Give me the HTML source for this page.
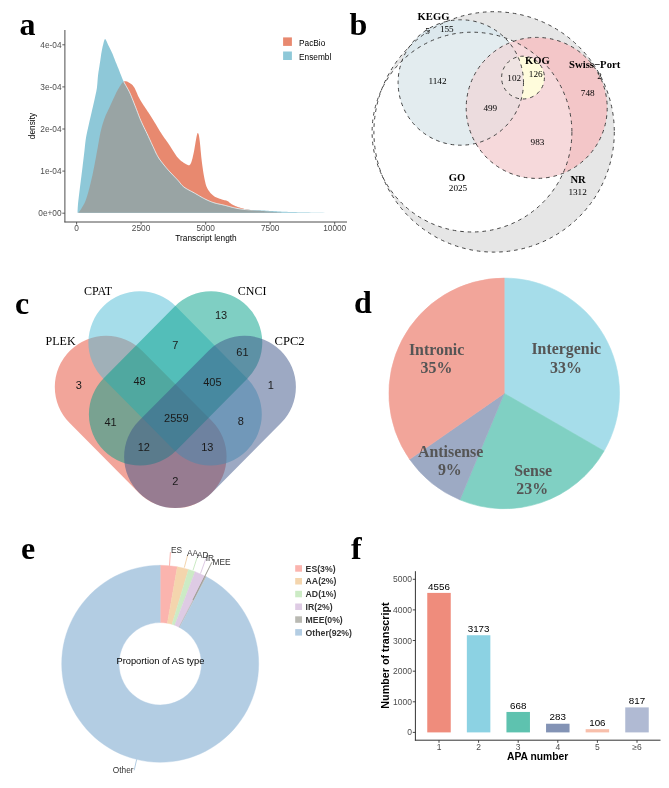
<!DOCTYPE html>
<html><head><meta charset="utf-8"><style>
html,body{margin:0;padding:0;background:#fff;}
body{width:669px;height:788px;overflow:hidden;}
svg{display:block;will-change:transform;}
</style></head><body>
<svg width="669" height="788" viewBox="0 0 669 788">
<rect width="669" height="788" fill="#fff"/>
<text x="19.5" y="34.5" style="font-family:&quot;Liberation Serif&quot;,serif;font-weight:bold;font-size:32px" fill="#000">a</text>
<text x="349.5" y="34.5" style="font-family:&quot;Liberation Serif&quot;,serif;font-weight:bold;font-size:32px" fill="#000">b</text>
<text x="15" y="314" style="font-family:&quot;Liberation Serif&quot;,serif;font-weight:bold;font-size:32px" fill="#000">c</text>
<text x="354" y="313" style="font-family:&quot;Liberation Serif&quot;,serif;font-weight:bold;font-size:32px" fill="#000">d</text>
<text x="21" y="559" style="font-family:&quot;Liberation Serif&quot;,serif;font-weight:bold;font-size:32px" fill="#000">e</text>
<text x="351" y="558.5" style="font-family:&quot;Liberation Serif&quot;,serif;font-weight:bold;font-size:32px" fill="#000">f</text>
<defs><clipPath id="redclip"><polygon points="78.20,212.80 78.44,212.51 78.74,212.16 79.10,211.75 79.51,211.27 79.96,210.72 80.43,210.09 80.91,209.39 81.40,208.60 81.91,207.74 82.45,206.83 83.03,205.85 83.62,204.79 84.22,203.63 84.82,202.38 85.42,201.00 86.00,199.50 86.57,197.83 87.16,195.99 87.74,194.01 88.32,191.93 88.89,189.80 89.45,187.66 89.99,185.55 90.50,183.50 90.99,181.52 91.45,179.55 91.89,177.60 92.32,175.64 92.74,173.67 93.16,171.66 93.57,169.61 94.00,167.50 94.43,165.32 94.86,163.09 95.28,160.81 95.71,158.49 96.13,156.16 96.55,153.83 96.98,151.50 97.40,149.20 97.82,146.88 98.23,144.51 98.64,142.13 99.06,139.75 99.47,137.41 99.90,135.14 100.34,132.96 100.80,130.90 101.28,128.95 101.78,127.08 102.29,125.29 102.81,123.57 103.33,121.92 103.86,120.35 104.38,118.84 104.90,117.40 105.41,116.07 105.92,114.85 106.42,113.73 106.93,112.67 107.43,111.64 107.95,110.60 108.47,109.53 109.00,108.40 109.54,107.21 110.10,105.99 110.66,104.75 111.23,103.50 111.80,102.25 112.37,101.01 112.94,99.79 113.50,98.60 114.04,97.43 114.57,96.27 115.09,95.13 115.61,93.99 116.14,92.87 116.70,91.77 117.28,90.68 117.90,89.60 118.57,88.48 119.27,87.28 120.00,86.07 120.75,84.89 121.51,83.79 122.28,82.82 123.05,82.04 123.80,81.50 124.56,81.22 125.33,81.15 126.11,81.27 126.89,81.52 127.66,81.87 128.40,82.28 129.12,82.70 129.80,83.10 130.43,83.48 131.03,83.88 131.60,84.31 132.14,84.79 132.68,85.33 133.21,85.95 133.75,86.67 134.30,87.50 134.86,88.48 135.43,89.63 135.99,90.88 136.56,92.21 137.12,93.56 137.68,94.89 138.24,96.15 138.80,97.30 139.34,98.33 139.87,99.28 140.39,100.18 140.91,101.05 141.44,101.91 141.99,102.79 142.57,103.71 143.20,104.70 143.87,105.75 144.59,106.83 145.34,107.94 146.11,109.08 146.89,110.23 147.68,111.39 148.45,112.55 149.20,113.70 149.93,114.83 150.64,115.95 151.34,117.07 152.04,118.19 152.75,119.34 153.47,120.51 154.22,121.73 155.00,123.00 155.82,124.34 156.67,125.76 157.54,127.22 158.43,128.71 159.32,130.21 160.22,131.69 161.12,133.12 162.00,134.50 162.86,135.79 163.71,137.01 164.54,138.18 165.38,139.33 166.24,140.50 167.12,141.72 168.03,143.01 169.00,144.40 170.02,145.95 171.09,147.66 172.19,149.46 173.32,151.29 174.47,153.10 175.62,154.83 176.77,156.42 177.90,157.80 179.06,159.02 180.27,160.14 181.50,161.17 182.72,162.09 183.91,162.90 185.02,163.59 186.03,164.16 186.90,164.60 187.62,164.93 188.21,165.16 188.71,165.28 189.12,165.28 189.50,165.14 189.85,164.86 190.21,164.42 190.60,163.80 191.01,162.99 191.40,162.00 191.78,160.85 192.14,159.55 192.51,158.13 192.87,156.60 193.23,154.98 193.60,153.30 193.99,151.41 194.39,149.23 194.79,146.87 195.19,144.45 195.58,142.09 195.96,139.90 196.30,138.00 196.60,136.50 196.86,135.37 197.08,134.49 197.27,133.83 197.44,133.38 197.60,133.11 197.76,133.01 197.92,133.04 198.10,133.20 198.28,133.45 198.46,133.80 198.63,134.29 198.80,134.94 198.98,135.80 199.17,136.89 199.37,138.24 199.60,139.90 199.85,141.98 200.10,144.50 200.38,147.34 200.66,150.39 200.96,153.53 201.26,156.64 201.58,159.60 201.90,162.30 202.23,164.82 202.58,167.32 202.94,169.77 203.31,172.14 203.68,174.41 204.05,176.54 204.43,178.52 204.80,180.30 205.15,181.86 205.47,183.21 205.79,184.40 206.11,185.45 206.45,186.42 206.84,187.34 207.28,188.25 207.80,189.20 208.39,190.17 209.02,191.12 209.70,192.04 210.43,192.93 211.20,193.77 212.02,194.57 212.89,195.31 213.80,196.00 214.81,196.63 215.94,197.20 217.15,197.72 218.39,198.20 219.62,198.63 220.80,199.02 221.87,199.38 222.80,199.70 223.58,199.96 224.24,200.13 224.82,200.24 225.34,200.32 225.82,200.41 226.29,200.51 226.77,200.67 227.30,200.90 227.84,201.22 228.37,201.59 228.89,202.01 229.41,202.46 229.94,202.91 230.49,203.37 231.07,203.80 231.70,204.20 232.35,204.57 233.02,204.92 233.70,205.27 234.41,205.60 235.16,205.93 235.95,206.25 236.80,206.58 237.70,206.90 238.69,207.23 239.76,207.57 240.89,207.92 242.06,208.26 243.24,208.58 244.43,208.89 245.59,209.16 246.70,209.40 247.76,209.60 248.78,209.76 249.79,209.89 250.79,210.01 251.79,210.11 252.82,210.20 253.89,210.29 255.00,210.40 256.17,210.51 257.38,210.61 258.63,210.71 259.89,210.81 261.18,210.91 262.46,211.00 263.74,211.10 265.00,211.20 266.25,211.30 267.50,211.40 268.75,211.51 270.00,211.61 271.25,211.71 272.50,211.81 273.75,211.91 275.00,212.00 276.32,212.09 277.73,212.18 279.19,212.27 280.62,212.35 281.98,212.43 283.20,212.50 284.23,212.56 285.00,212.60 78.20,212.80"/></clipPath></defs>
<polygon points="78.20,212.80 78.44,212.51 78.74,212.16 79.10,211.75 79.51,211.27 79.96,210.72 80.43,210.09 80.91,209.39 81.40,208.60 81.91,207.74 82.45,206.83 83.03,205.85 83.62,204.79 84.22,203.63 84.82,202.38 85.42,201.00 86.00,199.50 86.57,197.83 87.16,195.99 87.74,194.01 88.32,191.93 88.89,189.80 89.45,187.66 89.99,185.55 90.50,183.50 90.99,181.52 91.45,179.55 91.89,177.60 92.32,175.64 92.74,173.67 93.16,171.66 93.57,169.61 94.00,167.50 94.43,165.32 94.86,163.09 95.28,160.81 95.71,158.49 96.13,156.16 96.55,153.83 96.98,151.50 97.40,149.20 97.82,146.88 98.23,144.51 98.64,142.13 99.06,139.75 99.47,137.41 99.90,135.14 100.34,132.96 100.80,130.90 101.28,128.95 101.78,127.08 102.29,125.29 102.81,123.57 103.33,121.92 103.86,120.35 104.38,118.84 104.90,117.40 105.41,116.07 105.92,114.85 106.42,113.73 106.93,112.67 107.43,111.64 107.95,110.60 108.47,109.53 109.00,108.40 109.54,107.21 110.10,105.99 110.66,104.75 111.23,103.50 111.80,102.25 112.37,101.01 112.94,99.79 113.50,98.60 114.04,97.43 114.57,96.27 115.09,95.13 115.61,93.99 116.14,92.87 116.70,91.77 117.28,90.68 117.90,89.60 118.57,88.48 119.27,87.28 120.00,86.07 120.75,84.89 121.51,83.79 122.28,82.82 123.05,82.04 123.80,81.50 124.56,81.22 125.33,81.15 126.11,81.27 126.89,81.52 127.66,81.87 128.40,82.28 129.12,82.70 129.80,83.10 130.43,83.48 131.03,83.88 131.60,84.31 132.14,84.79 132.68,85.33 133.21,85.95 133.75,86.67 134.30,87.50 134.86,88.48 135.43,89.63 135.99,90.88 136.56,92.21 137.12,93.56 137.68,94.89 138.24,96.15 138.80,97.30 139.34,98.33 139.87,99.28 140.39,100.18 140.91,101.05 141.44,101.91 141.99,102.79 142.57,103.71 143.20,104.70 143.87,105.75 144.59,106.83 145.34,107.94 146.11,109.08 146.89,110.23 147.68,111.39 148.45,112.55 149.20,113.70 149.93,114.83 150.64,115.95 151.34,117.07 152.04,118.19 152.75,119.34 153.47,120.51 154.22,121.73 155.00,123.00 155.82,124.34 156.67,125.76 157.54,127.22 158.43,128.71 159.32,130.21 160.22,131.69 161.12,133.12 162.00,134.50 162.86,135.79 163.71,137.01 164.54,138.18 165.38,139.33 166.24,140.50 167.12,141.72 168.03,143.01 169.00,144.40 170.02,145.95 171.09,147.66 172.19,149.46 173.32,151.29 174.47,153.10 175.62,154.83 176.77,156.42 177.90,157.80 179.06,159.02 180.27,160.14 181.50,161.17 182.72,162.09 183.91,162.90 185.02,163.59 186.03,164.16 186.90,164.60 187.62,164.93 188.21,165.16 188.71,165.28 189.12,165.28 189.50,165.14 189.85,164.86 190.21,164.42 190.60,163.80 191.01,162.99 191.40,162.00 191.78,160.85 192.14,159.55 192.51,158.13 192.87,156.60 193.23,154.98 193.60,153.30 193.99,151.41 194.39,149.23 194.79,146.87 195.19,144.45 195.58,142.09 195.96,139.90 196.30,138.00 196.60,136.50 196.86,135.37 197.08,134.49 197.27,133.83 197.44,133.38 197.60,133.11 197.76,133.01 197.92,133.04 198.10,133.20 198.28,133.45 198.46,133.80 198.63,134.29 198.80,134.94 198.98,135.80 199.17,136.89 199.37,138.24 199.60,139.90 199.85,141.98 200.10,144.50 200.38,147.34 200.66,150.39 200.96,153.53 201.26,156.64 201.58,159.60 201.90,162.30 202.23,164.82 202.58,167.32 202.94,169.77 203.31,172.14 203.68,174.41 204.05,176.54 204.43,178.52 204.80,180.30 205.15,181.86 205.47,183.21 205.79,184.40 206.11,185.45 206.45,186.42 206.84,187.34 207.28,188.25 207.80,189.20 208.39,190.17 209.02,191.12 209.70,192.04 210.43,192.93 211.20,193.77 212.02,194.57 212.89,195.31 213.80,196.00 214.81,196.63 215.94,197.20 217.15,197.72 218.39,198.20 219.62,198.63 220.80,199.02 221.87,199.38 222.80,199.70 223.58,199.96 224.24,200.13 224.82,200.24 225.34,200.32 225.82,200.41 226.29,200.51 226.77,200.67 227.30,200.90 227.84,201.22 228.37,201.59 228.89,202.01 229.41,202.46 229.94,202.91 230.49,203.37 231.07,203.80 231.70,204.20 232.35,204.57 233.02,204.92 233.70,205.27 234.41,205.60 235.16,205.93 235.95,206.25 236.80,206.58 237.70,206.90 238.69,207.23 239.76,207.57 240.89,207.92 242.06,208.26 243.24,208.58 244.43,208.89 245.59,209.16 246.70,209.40 247.76,209.60 248.78,209.76 249.79,209.89 250.79,210.01 251.79,210.11 252.82,210.20 253.89,210.29 255.00,210.40 256.17,210.51 257.38,210.61 258.63,210.71 259.89,210.81 261.18,210.91 262.46,211.00 263.74,211.10 265.00,211.20 266.25,211.30 267.50,211.40 268.75,211.51 270.00,211.61 271.25,211.71 272.50,211.81 273.75,211.91 275.00,212.00 276.32,212.09 277.73,212.18 279.19,212.27 280.62,212.35 281.98,212.43 283.20,212.50 284.23,212.56 285.00,212.60 78.20,212.80" fill="#E8896F"/>
<polygon points="77.50,212.80 77.53,212.15 77.56,211.33 77.60,210.36 77.65,209.26 77.71,208.05 77.79,206.75 77.88,205.39 78.00,204.00 78.14,202.55 78.31,201.03 78.49,199.42 78.69,197.74 78.90,195.99 79.12,194.16 79.36,192.27 79.60,190.30 79.85,188.23 80.13,186.05 80.42,183.77 80.71,181.43 81.01,179.06 81.32,176.68 81.61,174.31 81.90,172.00 82.18,169.71 82.46,167.39 82.75,165.07 83.02,162.76 83.30,160.46 83.57,158.19 83.84,155.97 84.10,153.80 84.34,151.69 84.56,149.65 84.77,147.64 84.97,145.66 85.19,143.70 85.43,141.75 85.69,139.78 86.00,137.80 86.35,135.78 86.75,133.75 87.17,131.70 87.62,129.66 88.07,127.64 88.53,125.65 88.97,123.69 89.40,121.80 89.81,119.96 90.23,118.15 90.64,116.38 91.04,114.65 91.45,112.95 91.84,111.27 92.23,109.62 92.60,108.00 92.97,106.39 93.34,104.78 93.70,103.20 94.05,101.64 94.39,100.14 94.71,98.68 95.02,97.30 95.30,96.00 95.56,94.83 95.79,93.80 96.00,92.86 96.20,91.96 96.38,91.07 96.56,90.12 96.73,89.08 96.90,87.90 97.06,86.54 97.21,85.03 97.35,83.42 97.48,81.77 97.61,80.12 97.74,78.52 97.87,77.03 98.00,75.70 98.14,74.53 98.27,73.48 98.41,72.51 98.54,71.61 98.68,70.75 98.82,69.89 98.96,69.02 99.10,68.10 99.25,67.15 99.40,66.20 99.55,65.25 99.70,64.30 99.85,63.35 100.00,62.40 100.15,61.45 100.30,60.50 100.44,59.55 100.57,58.60 100.70,57.65 100.82,56.71 100.96,55.76 101.09,54.81 101.24,53.85 101.40,52.90 101.57,51.93 101.75,50.94 101.94,49.95 102.14,48.96 102.34,47.97 102.55,47.01 102.77,46.09 103.00,45.20 103.23,44.28 103.46,43.28 103.70,42.26 103.95,41.29 104.21,40.42 104.49,39.73 104.78,39.27 105.10,39.10 105.44,39.27 105.81,39.73 106.19,40.42 106.59,41.29 107.01,42.26 107.43,43.28 107.86,44.28 108.30,45.20 108.75,46.09 109.23,47.01 109.72,47.97 110.21,48.96 110.71,49.95 111.19,50.94 111.66,51.93 112.10,52.90 112.51,53.85 112.90,54.81 113.28,55.76 113.64,56.71 114.00,57.65 114.36,58.60 114.73,59.55 115.10,60.50 115.48,61.45 115.87,62.40 116.26,63.35 116.65,64.30 117.04,65.25 117.43,66.20 117.82,67.15 118.20,68.10 118.58,69.06 118.97,70.04 119.35,71.02 119.73,71.99 120.11,72.96 120.48,73.91 120.84,74.82 121.20,75.70 121.52,76.50 121.80,77.22 122.05,77.88 122.31,78.54 122.59,79.22 122.92,79.97 123.32,80.81 123.80,81.80 124.39,82.91 125.06,84.11 125.80,85.39 126.59,86.75 127.40,88.17 128.22,89.66 129.03,91.20 129.80,92.80 130.56,94.49 131.32,96.30 132.09,98.19 132.86,100.14 133.62,102.09 134.37,104.03 135.10,105.91 135.80,107.70 136.46,109.39 137.08,111.01 137.66,112.58 138.24,114.12 138.83,115.67 139.44,117.23 140.09,118.83 140.80,120.50 141.58,122.25 142.43,124.08 143.32,125.94 144.23,127.83 145.15,129.71 146.04,131.55 146.90,133.32 147.70,135.00 148.44,136.59 149.14,138.11 149.82,139.58 150.47,141.01 151.10,142.41 151.73,143.78 152.36,145.14 153.00,146.50 153.63,147.86 154.25,149.21 154.85,150.54 155.46,151.86 156.06,153.14 156.69,154.40 157.33,155.62 158.00,156.80 158.70,157.93 159.43,159.03 160.18,160.08 160.94,161.11 161.71,162.11 162.48,163.08 163.24,164.05 164.00,165.00 164.74,165.92 165.46,166.80 166.17,167.66 166.88,168.49 167.61,169.33 168.37,170.19 169.16,171.07 170.00,172.00 170.91,172.99 171.89,174.02 172.91,175.09 173.95,176.17 174.99,177.25 176.01,178.31 176.99,179.33 177.90,180.30 178.71,181.22 179.43,182.10 180.09,182.96 180.74,183.79 181.40,184.61 182.13,185.41 182.95,186.21 183.90,187.00 185.00,187.78 186.21,188.55 187.51,189.31 188.88,190.05 190.27,190.79 191.68,191.52 193.06,192.26 194.40,193.00 195.71,193.76 197.04,194.53 198.37,195.31 199.69,196.09 201.01,196.85 202.30,197.58 203.57,198.26 204.80,198.90 205.98,199.48 207.11,200.03 208.21,200.54 209.29,201.01 210.38,201.46 211.48,201.89 212.61,202.30 213.80,202.70 215.04,203.07 216.32,203.41 217.63,203.72 218.96,204.02 220.30,204.30 221.65,204.59 222.98,204.89 224.30,205.20 225.61,205.54 226.94,205.89 228.27,206.25 229.59,206.61 230.91,206.97 232.20,207.30 233.47,207.62 234.70,207.90 235.88,208.15 236.99,208.38 238.08,208.59 239.14,208.78 240.22,208.95 241.32,209.11 242.47,209.26 243.70,209.40 245.01,209.53 246.40,209.64 247.83,209.73 249.30,209.81 250.77,209.89 252.23,209.96 253.64,210.03 255.00,210.10 256.30,210.17 257.57,210.24 258.82,210.30 260.04,210.36 261.25,210.41 262.44,210.47 263.62,210.53 264.80,210.60 265.95,210.67 267.05,210.74 268.14,210.82 269.21,210.89 270.30,210.97 271.41,211.05 272.58,211.12 273.80,211.20 275.07,211.28 276.36,211.35 277.67,211.43 279.03,211.51 280.43,211.59 281.88,211.66 283.40,211.73 285.00,211.80 286.67,211.86 288.41,211.92 290.21,211.97 292.07,212.02 293.99,212.07 295.95,212.11 297.96,212.16 300.00,212.20 302.11,212.24 304.31,212.28 306.57,212.32 308.88,212.36 311.19,212.39 313.50,212.43 315.78,212.46 318.00,212.50 320.29,212.54 322.72,212.58 325.20,212.63 327.62,212.67 329.91,212.71 331.97,212.75 333.70,212.78 335.00,212.80 335.00,212.80 77.50,212.80" fill="#8EC8D8"/>
<g clip-path="url(#redclip)"><polygon points="77.50,212.80 77.53,212.15 77.56,211.33 77.60,210.36 77.65,209.26 77.71,208.05 77.79,206.75 77.88,205.39 78.00,204.00 78.14,202.55 78.31,201.03 78.49,199.42 78.69,197.74 78.90,195.99 79.12,194.16 79.36,192.27 79.60,190.30 79.85,188.23 80.13,186.05 80.42,183.77 80.71,181.43 81.01,179.06 81.32,176.68 81.61,174.31 81.90,172.00 82.18,169.71 82.46,167.39 82.75,165.07 83.02,162.76 83.30,160.46 83.57,158.19 83.84,155.97 84.10,153.80 84.34,151.69 84.56,149.65 84.77,147.64 84.97,145.66 85.19,143.70 85.43,141.75 85.69,139.78 86.00,137.80 86.35,135.78 86.75,133.75 87.17,131.70 87.62,129.66 88.07,127.64 88.53,125.65 88.97,123.69 89.40,121.80 89.81,119.96 90.23,118.15 90.64,116.38 91.04,114.65 91.45,112.95 91.84,111.27 92.23,109.62 92.60,108.00 92.97,106.39 93.34,104.78 93.70,103.20 94.05,101.64 94.39,100.14 94.71,98.68 95.02,97.30 95.30,96.00 95.56,94.83 95.79,93.80 96.00,92.86 96.20,91.96 96.38,91.07 96.56,90.12 96.73,89.08 96.90,87.90 97.06,86.54 97.21,85.03 97.35,83.42 97.48,81.77 97.61,80.12 97.74,78.52 97.87,77.03 98.00,75.70 98.14,74.53 98.27,73.48 98.41,72.51 98.54,71.61 98.68,70.75 98.82,69.89 98.96,69.02 99.10,68.10 99.25,67.15 99.40,66.20 99.55,65.25 99.70,64.30 99.85,63.35 100.00,62.40 100.15,61.45 100.30,60.50 100.44,59.55 100.57,58.60 100.70,57.65 100.82,56.71 100.96,55.76 101.09,54.81 101.24,53.85 101.40,52.90 101.57,51.93 101.75,50.94 101.94,49.95 102.14,48.96 102.34,47.97 102.55,47.01 102.77,46.09 103.00,45.20 103.23,44.28 103.46,43.28 103.70,42.26 103.95,41.29 104.21,40.42 104.49,39.73 104.78,39.27 105.10,39.10 105.44,39.27 105.81,39.73 106.19,40.42 106.59,41.29 107.01,42.26 107.43,43.28 107.86,44.28 108.30,45.20 108.75,46.09 109.23,47.01 109.72,47.97 110.21,48.96 110.71,49.95 111.19,50.94 111.66,51.93 112.10,52.90 112.51,53.85 112.90,54.81 113.28,55.76 113.64,56.71 114.00,57.65 114.36,58.60 114.73,59.55 115.10,60.50 115.48,61.45 115.87,62.40 116.26,63.35 116.65,64.30 117.04,65.25 117.43,66.20 117.82,67.15 118.20,68.10 118.58,69.06 118.97,70.04 119.35,71.02 119.73,71.99 120.11,72.96 120.48,73.91 120.84,74.82 121.20,75.70 121.52,76.50 121.80,77.22 122.05,77.88 122.31,78.54 122.59,79.22 122.92,79.97 123.32,80.81 123.80,81.80 124.39,82.91 125.06,84.11 125.80,85.39 126.59,86.75 127.40,88.17 128.22,89.66 129.03,91.20 129.80,92.80 130.56,94.49 131.32,96.30 132.09,98.19 132.86,100.14 133.62,102.09 134.37,104.03 135.10,105.91 135.80,107.70 136.46,109.39 137.08,111.01 137.66,112.58 138.24,114.12 138.83,115.67 139.44,117.23 140.09,118.83 140.80,120.50 141.58,122.25 142.43,124.08 143.32,125.94 144.23,127.83 145.15,129.71 146.04,131.55 146.90,133.32 147.70,135.00 148.44,136.59 149.14,138.11 149.82,139.58 150.47,141.01 151.10,142.41 151.73,143.78 152.36,145.14 153.00,146.50 153.63,147.86 154.25,149.21 154.85,150.54 155.46,151.86 156.06,153.14 156.69,154.40 157.33,155.62 158.00,156.80 158.70,157.93 159.43,159.03 160.18,160.08 160.94,161.11 161.71,162.11 162.48,163.08 163.24,164.05 164.00,165.00 164.74,165.92 165.46,166.80 166.17,167.66 166.88,168.49 167.61,169.33 168.37,170.19 169.16,171.07 170.00,172.00 170.91,172.99 171.89,174.02 172.91,175.09 173.95,176.17 174.99,177.25 176.01,178.31 176.99,179.33 177.90,180.30 178.71,181.22 179.43,182.10 180.09,182.96 180.74,183.79 181.40,184.61 182.13,185.41 182.95,186.21 183.90,187.00 185.00,187.78 186.21,188.55 187.51,189.31 188.88,190.05 190.27,190.79 191.68,191.52 193.06,192.26 194.40,193.00 195.71,193.76 197.04,194.53 198.37,195.31 199.69,196.09 201.01,196.85 202.30,197.58 203.57,198.26 204.80,198.90 205.98,199.48 207.11,200.03 208.21,200.54 209.29,201.01 210.38,201.46 211.48,201.89 212.61,202.30 213.80,202.70 215.04,203.07 216.32,203.41 217.63,203.72 218.96,204.02 220.30,204.30 221.65,204.59 222.98,204.89 224.30,205.20 225.61,205.54 226.94,205.89 228.27,206.25 229.59,206.61 230.91,206.97 232.20,207.30 233.47,207.62 234.70,207.90 235.88,208.15 236.99,208.38 238.08,208.59 239.14,208.78 240.22,208.95 241.32,209.11 242.47,209.26 243.70,209.40 245.01,209.53 246.40,209.64 247.83,209.73 249.30,209.81 250.77,209.89 252.23,209.96 253.64,210.03 255.00,210.10 256.30,210.17 257.57,210.24 258.82,210.30 260.04,210.36 261.25,210.41 262.44,210.47 263.62,210.53 264.80,210.60 265.95,210.67 267.05,210.74 268.14,210.82 269.21,210.89 270.30,210.97 271.41,211.05 272.58,211.12 273.80,211.20 275.07,211.28 276.36,211.35 277.67,211.43 279.03,211.51 280.43,211.59 281.88,211.66 283.40,211.73 285.00,211.80 286.67,211.86 288.41,211.92 290.21,211.97 292.07,212.02 293.99,212.07 295.95,212.11 297.96,212.16 300.00,212.20 302.11,212.24 304.31,212.28 306.57,212.32 308.88,212.36 311.19,212.39 313.50,212.43 315.78,212.46 318.00,212.50 320.29,212.54 322.72,212.58 325.20,212.63 327.62,212.67 329.91,212.71 331.97,212.75 333.70,212.78 335.00,212.80 335.00,212.80 77.50,212.80" fill="#99A4A4"/><polyline points="77.50,212.80 77.53,212.15 77.56,211.33 77.60,210.36 77.65,209.26 77.71,208.05 77.79,206.75 77.88,205.39 78.00,204.00 78.14,202.55 78.31,201.03 78.49,199.42 78.69,197.74 78.90,195.99 79.12,194.16 79.36,192.27 79.60,190.30 79.85,188.23 80.13,186.05 80.42,183.77 80.71,181.43 81.01,179.06 81.32,176.68 81.61,174.31 81.90,172.00 82.18,169.71 82.46,167.39 82.75,165.07 83.02,162.76 83.30,160.46 83.57,158.19 83.84,155.97 84.10,153.80 84.34,151.69 84.56,149.65 84.77,147.64 84.97,145.66 85.19,143.70 85.43,141.75 85.69,139.78 86.00,137.80 86.35,135.78 86.75,133.75 87.17,131.70 87.62,129.66 88.07,127.64 88.53,125.65 88.97,123.69 89.40,121.80 89.81,119.96 90.23,118.15 90.64,116.38 91.04,114.65 91.45,112.95 91.84,111.27 92.23,109.62 92.60,108.00 92.97,106.39 93.34,104.78 93.70,103.20 94.05,101.64 94.39,100.14 94.71,98.68 95.02,97.30 95.30,96.00 95.56,94.83 95.79,93.80 96.00,92.86 96.20,91.96 96.38,91.07 96.56,90.12 96.73,89.08 96.90,87.90 97.06,86.54 97.21,85.03 97.35,83.42 97.48,81.77 97.61,80.12 97.74,78.52 97.87,77.03 98.00,75.70 98.14,74.53 98.27,73.48 98.41,72.51 98.54,71.61 98.68,70.75 98.82,69.89 98.96,69.02 99.10,68.10 99.25,67.15 99.40,66.20 99.55,65.25 99.70,64.30 99.85,63.35 100.00,62.40 100.15,61.45 100.30,60.50 100.44,59.55 100.57,58.60 100.70,57.65 100.82,56.71 100.96,55.76 101.09,54.81 101.24,53.85 101.40,52.90 101.57,51.93 101.75,50.94 101.94,49.95 102.14,48.96 102.34,47.97 102.55,47.01 102.77,46.09 103.00,45.20 103.23,44.28 103.46,43.28 103.70,42.26 103.95,41.29 104.21,40.42 104.49,39.73 104.78,39.27 105.10,39.10 105.44,39.27 105.81,39.73 106.19,40.42 106.59,41.29 107.01,42.26 107.43,43.28 107.86,44.28 108.30,45.20 108.75,46.09 109.23,47.01 109.72,47.97 110.21,48.96 110.71,49.95 111.19,50.94 111.66,51.93 112.10,52.90 112.51,53.85 112.90,54.81 113.28,55.76 113.64,56.71 114.00,57.65 114.36,58.60 114.73,59.55 115.10,60.50 115.48,61.45 115.87,62.40 116.26,63.35 116.65,64.30 117.04,65.25 117.43,66.20 117.82,67.15 118.20,68.10 118.58,69.06 118.97,70.04 119.35,71.02 119.73,71.99 120.11,72.96 120.48,73.91 120.84,74.82 121.20,75.70 121.52,76.50 121.80,77.22 122.05,77.88 122.31,78.54 122.59,79.22 122.92,79.97 123.32,80.81 123.80,81.80 124.39,82.91 125.06,84.11 125.80,85.39 126.59,86.75 127.40,88.17 128.22,89.66 129.03,91.20 129.80,92.80 130.56,94.49 131.32,96.30 132.09,98.19 132.86,100.14 133.62,102.09 134.37,104.03 135.10,105.91 135.80,107.70 136.46,109.39 137.08,111.01 137.66,112.58 138.24,114.12 138.83,115.67 139.44,117.23 140.09,118.83 140.80,120.50 141.58,122.25 142.43,124.08 143.32,125.94 144.23,127.83 145.15,129.71 146.04,131.55 146.90,133.32 147.70,135.00 148.44,136.59 149.14,138.11 149.82,139.58 150.47,141.01 151.10,142.41 151.73,143.78 152.36,145.14 153.00,146.50 153.63,147.86 154.25,149.21 154.85,150.54 155.46,151.86 156.06,153.14 156.69,154.40 157.33,155.62 158.00,156.80 158.70,157.93 159.43,159.03 160.18,160.08 160.94,161.11 161.71,162.11 162.48,163.08 163.24,164.05 164.00,165.00 164.74,165.92 165.46,166.80 166.17,167.66 166.88,168.49 167.61,169.33 168.37,170.19 169.16,171.07 170.00,172.00 170.91,172.99 171.89,174.02 172.91,175.09 173.95,176.17 174.99,177.25 176.01,178.31 176.99,179.33 177.90,180.30 178.71,181.22 179.43,182.10 180.09,182.96 180.74,183.79 181.40,184.61 182.13,185.41 182.95,186.21 183.90,187.00 185.00,187.78 186.21,188.55 187.51,189.31 188.88,190.05 190.27,190.79 191.68,191.52 193.06,192.26 194.40,193.00 195.71,193.76 197.04,194.53 198.37,195.31 199.69,196.09 201.01,196.85 202.30,197.58 203.57,198.26 204.80,198.90 205.98,199.48 207.11,200.03 208.21,200.54 209.29,201.01 210.38,201.46 211.48,201.89 212.61,202.30 213.80,202.70 215.04,203.07 216.32,203.41 217.63,203.72 218.96,204.02 220.30,204.30 221.65,204.59 222.98,204.89 224.30,205.20 225.61,205.54 226.94,205.89 228.27,206.25 229.59,206.61 230.91,206.97 232.20,207.30 233.47,207.62 234.70,207.90 235.88,208.15 236.99,208.38 238.08,208.59 239.14,208.78 240.22,208.95 241.32,209.11 242.47,209.26 243.70,209.40 245.01,209.53 246.40,209.64 247.83,209.73 249.30,209.81 250.77,209.89 252.23,209.96 253.64,210.03 255.00,210.10 256.30,210.17 257.57,210.24 258.82,210.30 260.04,210.36 261.25,210.41 262.44,210.47 263.62,210.53 264.80,210.60 265.95,210.67 267.05,210.74 268.14,210.82 269.21,210.89 270.30,210.97 271.41,211.05 272.58,211.12 273.80,211.20 275.07,211.28 276.36,211.35 277.67,211.43 279.03,211.51 280.43,211.59 281.88,211.66 283.40,211.73 285.00,211.80 286.67,211.86 288.41,211.92 290.21,211.97 292.07,212.02 293.99,212.07 295.95,212.11 297.96,212.16 300.00,212.20 302.11,212.24 304.31,212.28 306.57,212.32 308.88,212.36 311.19,212.39 313.50,212.43 315.78,212.46 318.00,212.50 320.29,212.54 322.72,212.58 325.20,212.63 327.62,212.67 329.91,212.71 331.97,212.75 333.70,212.78 335.00,212.80" fill="none" stroke="#fff" stroke-width="0.7"/></g>
<line x1="64.9" y1="30" x2="64.9" y2="222.3" stroke="#4d4d4d" stroke-width="1"/>
<line x1="64.4" y1="222" x2="347" y2="222" stroke="#4d4d4d" stroke-width="1"/>
<line x1="62.3" y1="213.2" x2="64.9" y2="213.2" stroke="#4d4d4d" stroke-width="0.9"/>
<text x="61.6" y="216.2" text-anchor="end" style="font-family:&quot;Liberation Sans&quot;,sans-serif;font-size:8.3px" fill="#4d4d4d">0e+00</text>
<line x1="62.3" y1="171.1" x2="64.9" y2="171.1" stroke="#4d4d4d" stroke-width="0.9"/>
<text x="61.6" y="174.1" text-anchor="end" style="font-family:&quot;Liberation Sans&quot;,sans-serif;font-size:8.3px" fill="#4d4d4d">1e-04</text>
<line x1="62.3" y1="129.0" x2="64.9" y2="129.0" stroke="#4d4d4d" stroke-width="0.9"/>
<text x="61.6" y="132.0" text-anchor="end" style="font-family:&quot;Liberation Sans&quot;,sans-serif;font-size:8.3px" fill="#4d4d4d">2e-04</text>
<line x1="62.3" y1="86.9" x2="64.9" y2="86.9" stroke="#4d4d4d" stroke-width="0.9"/>
<text x="61.6" y="89.9" text-anchor="end" style="font-family:&quot;Liberation Sans&quot;,sans-serif;font-size:8.3px" fill="#4d4d4d">3e-04</text>
<line x1="62.3" y1="44.8" x2="64.9" y2="44.8" stroke="#4d4d4d" stroke-width="0.9"/>
<text x="61.6" y="47.8" text-anchor="end" style="font-family:&quot;Liberation Sans&quot;,sans-serif;font-size:8.3px" fill="#4d4d4d">4e-04</text>
<line x1="76.6" y1="222" x2="76.6" y2="224.6" stroke="#4d4d4d" stroke-width="0.9"/>
<text x="76.6" y="231.3" text-anchor="middle" style="font-family:&quot;Liberation Sans&quot;,sans-serif;font-size:8.3px" fill="#4d4d4d">0</text>
<line x1="141.1" y1="222" x2="141.1" y2="224.6" stroke="#4d4d4d" stroke-width="0.9"/>
<text x="141.1" y="231.3" text-anchor="middle" style="font-family:&quot;Liberation Sans&quot;,sans-serif;font-size:8.3px" fill="#4d4d4d">2500</text>
<line x1="205.7" y1="222" x2="205.7" y2="224.6" stroke="#4d4d4d" stroke-width="0.9"/>
<text x="205.7" y="231.3" text-anchor="middle" style="font-family:&quot;Liberation Sans&quot;,sans-serif;font-size:8.3px" fill="#4d4d4d">5000</text>
<line x1="270.2" y1="222" x2="270.2" y2="224.6" stroke="#4d4d4d" stroke-width="0.9"/>
<text x="270.2" y="231.3" text-anchor="middle" style="font-family:&quot;Liberation Sans&quot;,sans-serif;font-size:8.3px" fill="#4d4d4d">7500</text>
<line x1="334.7" y1="222" x2="334.7" y2="224.6" stroke="#4d4d4d" stroke-width="0.9"/>
<text x="334.7" y="231.3" text-anchor="middle" style="font-family:&quot;Liberation Sans&quot;,sans-serif;font-size:8.3px" fill="#4d4d4d">10000</text>
<text x="206" y="241" text-anchor="middle" style="font-family:&quot;Liberation Sans&quot;,sans-serif;font-size:8.3px" fill="#000">Transcript length</text>
<text transform="translate(35,126) rotate(-90)" text-anchor="middle" style="font-family:&quot;Liberation Sans&quot;,sans-serif;font-size:8.3px" fill="#000">density</text>
<rect x="283.1" y="37.4" width="8.8" height="8.5" fill="#E8896F"/>
<rect x="283.1" y="51.5" width="8.8" height="8.5" fill="#8EC8D8"/>
<text x="299" y="46" style="font-family:&quot;Liberation Sans&quot;,sans-serif;font-size:8.3px" fill="#000">PacBio</text>
<text x="299" y="60" style="font-family:&quot;Liberation Sans&quot;,sans-serif;font-size:8.3px" fill="#000">Ensembl</text>
<defs><clipPath id="cGO"><circle cx="472" cy="132.1" r="99.9" fill="#000" /></clipPath><clipPath id="cKE"><circle cx="460.8" cy="82.5" r="62.7" fill="#000" /></clipPath><clipPath id="cSP"><circle cx="536.7" cy="107.9" r="70.5" fill="#000" /></clipPath></defs>
<circle cx="494.1" cy="131.9" r="120.2" fill="#E6E6E6" />
<circle cx="472" cy="132.1" r="99.9" fill="#FFFFFF" />
<circle cx="460.8" cy="82.5" r="62.7" fill="#DCE8ED" />
<g clip-path="url(#cGO)"><circle cx="460.8" cy="82.5" r="62.7" fill="#E3ECEF" /></g>
<circle cx="536.7" cy="107.9" r="70.5" fill="#F3C6C8" />
<g clip-path="url(#cGO)"><circle cx="536.7" cy="107.9" r="70.5" fill="#F6D9DB" /></g>
<g clip-path="url(#cGO)"><g clip-path="url(#cKE)"><circle cx="536.7" cy="107.9" r="70.5" fill="#ECDCDE" /></g></g>
<circle cx="523" cy="77.6" r="21.4" fill="#FFFCDC" />
<g clip-path="url(#cKE)"><circle cx="523" cy="77.6" r="21.4" fill="#EFE3E2" /></g>
<circle cx="494.1" cy="131.9" r="120.2" fill="none" stroke="#444" stroke-width="1" stroke-dasharray="3.6,3.9"/>
<circle cx="472" cy="132.1" r="99.9" fill="none" stroke="#444" stroke-width="1" stroke-dasharray="3.6,3.9"/>
<circle cx="460.8" cy="82.5" r="62.7" fill="none" stroke="#444" stroke-width="1" stroke-dasharray="3.6,3.9"/>
<circle cx="536.7" cy="107.9" r="70.5" fill="none" stroke="#444" stroke-width="1" stroke-dasharray="3.6,3.9"/>
<circle cx="523" cy="77.6" r="21.4" fill="none" stroke="#444" stroke-width="1" stroke-dasharray="3.6,3.9"/>
<text x="433.5" y="20.4" text-anchor="middle" style="font-family:&quot;Liberation Serif&quot;,serif;font-weight:bold;font-size:10.6px" fill="#000">KEGG</text>
<text x="446.8" y="32.4" text-anchor="middle" style="font-family:&quot;Liberation Serif&quot;,serif;font-weight:normal;font-size:9.2px" fill="#000">155</text>
<text x="427.5" y="34.4" text-anchor="middle" style="font-family:&quot;Liberation Serif&quot;,serif;font-weight:normal;font-size:9.2px" fill="#000">5</text>
<text x="437.5" y="84.2" text-anchor="middle" style="font-family:&quot;Liberation Serif&quot;,serif;font-weight:normal;font-size:9.2px" fill="#000">1142</text>
<text x="537.4" y="64" text-anchor="middle" style="font-family:&quot;Liberation Serif&quot;,serif;font-weight:bold;font-size:10.6px" fill="#000">KOG</text>
<text x="535.7" y="76.5" text-anchor="middle" style="font-family:&quot;Liberation Serif&quot;,serif;font-weight:normal;font-size:9.2px" fill="#000">126</text>
<text x="514.2" y="80.7" text-anchor="middle" style="font-family:&quot;Liberation Serif&quot;,serif;font-weight:normal;font-size:9.2px" fill="#000">102</text>
<text x="594.7" y="67.8" text-anchor="middle" style="font-family:&quot;Liberation Serif&quot;,serif;font-weight:bold;font-size:10.7px" fill="#000">Swiss−Port</text>
<text x="599.6" y="78.5" text-anchor="middle" style="font-family:&quot;Liberation Serif&quot;,serif;font-weight:normal;font-size:9.2px" fill="#000">2</text>
<text x="587.7" y="95.7" text-anchor="middle" style="font-family:&quot;Liberation Serif&quot;,serif;font-weight:normal;font-size:9.2px" fill="#000">748</text>
<text x="490.3" y="110.8" text-anchor="middle" style="font-family:&quot;Liberation Serif&quot;,serif;font-weight:normal;font-size:9.2px" fill="#000">499</text>
<text x="537.5" y="145.3" text-anchor="middle" style="font-family:&quot;Liberation Serif&quot;,serif;font-weight:normal;font-size:9.2px" fill="#000">983</text>
<text x="457.1" y="180.6" text-anchor="middle" style="font-family:&quot;Liberation Serif&quot;,serif;font-weight:bold;font-size:10.6px" fill="#000">GO</text>
<text x="458" y="191.3" text-anchor="middle" style="font-family:&quot;Liberation Serif&quot;,serif;font-weight:normal;font-size:9.2px" fill="#000">2025</text>
<text x="578.1" y="182.9" text-anchor="middle" style="font-family:&quot;Liberation Serif&quot;,serif;font-weight:bold;font-size:10.6px" fill="#000">NR</text>
<text x="577.6" y="194.9" text-anchor="middle" style="font-family:&quot;Liberation Serif&quot;,serif;font-weight:normal;font-size:9.2px" fill="#000">1312</text>
<path d="M69.68,423.09 L139.03,492.89 A51.2,51.2 0 0 0 211.67,420.71 L142.32,350.91 A51.2,51.2 0 0 0 69.68,423.09 Z" fill="#E64B35" fill-opacity="0.5"/>
<path d="M103.19,378.50 L174.19,450.30 A51.2,51.2 0 0 0 247.01,378.30 L176.01,306.50 A51.2,51.2 0 0 0 103.19,378.50 Z" fill="#4DBBD5" fill-opacity="0.5"/>
<path d="M174.69,306.50 L103.69,378.30 A51.2,51.2 0 0 0 176.51,450.30 L247.51,378.50 A51.2,51.2 0 0 0 174.69,306.50 Z" fill="#00A087" fill-opacity="0.5"/>
<path d="M208.38,350.91 L139.03,420.71 A51.2,51.2 0 0 0 211.67,492.89 L281.02,423.09 A51.2,51.2 0 0 0 208.38,350.91 Z" fill="#3C5488" fill-opacity="0.5"/>
<text x="98" y="295" text-anchor="middle" style="font-family:&quot;Liberation Serif&quot;,serif;font-size:12px" fill="#000">CPAT</text>
<text x="60.6" y="345" text-anchor="middle" style="font-family:&quot;Liberation Serif&quot;,serif;font-size:12px" fill="#000">PLEK</text>
<text x="252.2" y="295" text-anchor="middle" style="font-family:&quot;Liberation Serif&quot;,serif;font-size:12px" fill="#000">CNCI</text>
<text x="289.6" y="345" text-anchor="middle" style="font-family:&quot;Liberation Serif&quot;,serif;font-size:12.6px" fill="#000">CPC2</text>
<text x="78.8" y="388.5" text-anchor="middle" style="font-family:&quot;Liberation Sans&quot;,sans-serif;font-size:11px" fill="#1a1a1a">3</text>
<text x="139.5" y="385.3" text-anchor="middle" style="font-family:&quot;Liberation Sans&quot;,sans-serif;font-size:11px" fill="#1a1a1a">48</text>
<text x="175.3" y="349.4" text-anchor="middle" style="font-family:&quot;Liberation Sans&quot;,sans-serif;font-size:11px" fill="#1a1a1a">7</text>
<text x="221" y="318.9" text-anchor="middle" style="font-family:&quot;Liberation Sans&quot;,sans-serif;font-size:11px" fill="#1a1a1a">13</text>
<text x="242.4" y="355.5" text-anchor="middle" style="font-family:&quot;Liberation Sans&quot;,sans-serif;font-size:11px" fill="#1a1a1a">61</text>
<text x="212.4" y="386" text-anchor="middle" style="font-family:&quot;Liberation Sans&quot;,sans-serif;font-size:11px" fill="#1a1a1a">405</text>
<text x="270.8" y="388.5" text-anchor="middle" style="font-family:&quot;Liberation Sans&quot;,sans-serif;font-size:11px" fill="#1a1a1a">1</text>
<text x="110.5" y="426" text-anchor="middle" style="font-family:&quot;Liberation Sans&quot;,sans-serif;font-size:11px" fill="#1a1a1a">41</text>
<text x="176.3" y="421.5" text-anchor="middle" style="font-family:&quot;Liberation Sans&quot;,sans-serif;font-size:11px" fill="#1a1a1a">2559</text>
<text x="240.9" y="424.6" text-anchor="middle" style="font-family:&quot;Liberation Sans&quot;,sans-serif;font-size:11px" fill="#1a1a1a">8</text>
<text x="143.8" y="451" text-anchor="middle" style="font-family:&quot;Liberation Sans&quot;,sans-serif;font-size:11px" fill="#1a1a1a">12</text>
<text x="207.3" y="451" text-anchor="middle" style="font-family:&quot;Liberation Sans&quot;,sans-serif;font-size:11px" fill="#1a1a1a">13</text>
<text x="175.3" y="484.8" text-anchor="middle" style="font-family:&quot;Liberation Sans&quot;,sans-serif;font-size:11px" fill="#1a1a1a">2</text>
<path d="M504.2,393.4 L504.20,278.10 A115.3,115.3 0 0 1 604.05,451.05 Z" fill="#A6DDEA" stroke="#A6DDEA" stroke-width="0.6" stroke-linejoin="round"/>
<path d="M504.2,393.4 L604.05,451.05 A115.3,115.3 0 0 1 459.89,499.85 Z" fill="#80D0C3" stroke="#80D0C3" stroke-width="0.6" stroke-linejoin="round"/>
<path d="M504.2,393.4 L459.89,499.85 A115.3,115.3 0 0 1 409.64,459.37 Z" fill="#9DAAC4" stroke="#9DAAC4" stroke-width="0.6" stroke-linejoin="round"/>
<path d="M504.2,393.4 L409.64,459.37 A115.3,115.3 0 0 1 504.20,278.10 Z" fill="#F2A59A" stroke="#F2A59A" stroke-width="0.6" stroke-linejoin="round"/>
<text x="436.6" y="355.1" text-anchor="middle" style="font-family:&quot;Liberation Serif&quot;,serif;font-weight:bold;font-size:15.9px" fill="#555">Intronic</text>
<text x="436.4" y="372.6" text-anchor="middle" style="font-family:&quot;Liberation Serif&quot;,serif;font-weight:bold;font-size:15.9px" fill="#555">35%</text>
<text x="566.3" y="354.4" text-anchor="middle" style="font-family:&quot;Liberation Serif&quot;,serif;font-weight:bold;font-size:15.9px" fill="#555">Intergenic</text>
<text x="566" y="373.1" text-anchor="middle" style="font-family:&quot;Liberation Serif&quot;,serif;font-weight:bold;font-size:15.9px" fill="#555">33%</text>
<text x="450.6" y="457.3" text-anchor="middle" style="font-family:&quot;Liberation Serif&quot;,serif;font-weight:bold;font-size:15.9px" fill="#555">Antisense</text>
<text x="449.8" y="474.8" text-anchor="middle" style="font-family:&quot;Liberation Serif&quot;,serif;font-weight:bold;font-size:15.9px" fill="#555">9%</text>
<text x="533.2" y="476.3" text-anchor="middle" style="font-family:&quot;Liberation Serif&quot;,serif;font-weight:bold;font-size:15.9px" fill="#555">Sense</text>
<text x="532.2" y="493.6" text-anchor="middle" style="font-family:&quot;Liberation Serif&quot;,serif;font-weight:bold;font-size:15.9px" fill="#555">23%</text>
<path d="M160.20,565.30 A98.5,98.5 0 0 1 177.30,566.80 L167.35,623.23 A41.2,41.2 0 0 0 160.20,622.60 Z" fill="#FBB4AE" stroke="#FBB4AE" stroke-width="0.4"/>
<path d="M177.30,566.80 A98.5,98.5 0 0 1 188.51,569.45 L172.04,624.34 A41.2,41.2 0 0 0 167.35,623.23 Z" fill="#F4D5AD" stroke="#F4D5AD" stroke-width="0.4"/>
<path d="M188.51,569.45 A98.5,98.5 0 0 1 195.02,571.66 L174.76,625.26 A41.2,41.2 0 0 0 172.04,624.34 Z" fill="#CCEBC5" stroke="#CCEBC5" stroke-width="0.4"/>
<path d="M195.02,571.66 A98.5,98.5 0 0 1 205.38,576.27 L179.10,627.19 A41.2,41.2 0 0 0 174.76,625.26 Z" fill="#DECBE4" stroke="#DECBE4" stroke-width="0.4"/>
<path d="M205.38,576.27 A98.5,98.5 0 0 1 206.44,576.83 L179.54,627.42 A41.2,41.2 0 0 0 179.10,627.19 Z" fill="#B9B9B2" stroke="#B9B9B2" stroke-width="0.4"/>
<path d="M206.44,576.83 A98.5,98.5 0 1 1 160.20,565.30 L160.20,622.60 A41.2,41.2 0 1 0 179.54,627.42 Z" fill="#B3CDE3" stroke="#B3CDE3" stroke-width="0.4"/>
<line x1="169.5" y1="565.8" x2="170.4" y2="552.1" stroke="#FBB4AE" stroke-width="1"/>
<line x1="184.3" y1="567.6" x2="187.7" y2="554.8" stroke="#F4D5AD" stroke-width="1"/>
<line x1="193" y1="570.3" x2="197.1" y2="557.5" stroke="#CCEBC5" stroke-width="1"/>
<line x1="200.5" y1="573.6" x2="205.8" y2="558.8" stroke="#DECBE4" stroke-width="1"/>
<line x1="193" y1="600" x2="211.9" y2="562.2" stroke="#999990" stroke-width="1"/>
<line x1="134.2" y1="770.3" x2="136.7" y2="759.2" stroke="#B3CDE3" stroke-width="1"/>
<text x="170.9" y="552.8" text-anchor="start" style="font-family:&quot;Liberation Sans&quot;,sans-serif;font-size:8.3px" fill="#333">ES</text>
<text x="187" y="555.5" text-anchor="start" style="font-family:&quot;Liberation Sans&quot;,sans-serif;font-size:8.3px" fill="#333">AA</text>
<text x="197" y="558.2" text-anchor="start" style="font-family:&quot;Liberation Sans&quot;,sans-serif;font-size:8.3px" fill="#333">AD</text>
<text x="205.8" y="560.9" text-anchor="start" style="font-family:&quot;Liberation Sans&quot;,sans-serif;font-size:8.3px" fill="#333">IR</text>
<text x="212.6" y="564.9" text-anchor="start" style="font-family:&quot;Liberation Sans&quot;,sans-serif;font-size:8.3px" fill="#333">MEE</text>
<text x="112.8" y="772.5" text-anchor="start" style="font-family:&quot;Liberation Sans&quot;,sans-serif;font-size:8.3px" fill="#333">Other</text>
<text x="160.4" y="664.2" text-anchor="middle" style="font-family:&quot;Liberation Sans&quot;,sans-serif;font-size:9.3px" fill="#000">Proportion of AS type</text>
<rect x="295.2" y="565.2" width="6.8" height="6.5" fill="#FBB4AE"/>
<text x="305.6" y="571.6" style="font-family:&quot;Liberation Sans&quot;,sans-serif;font-weight:bold;font-size:8.7px" fill="#333">ES(3%)</text>
<rect x="295.2" y="578.0" width="6.8" height="6.5" fill="#F4D5AD"/>
<text x="305.6" y="584.4" style="font-family:&quot;Liberation Sans&quot;,sans-serif;font-weight:bold;font-size:8.7px" fill="#333">AA(2%)</text>
<rect x="295.2" y="590.8" width="6.8" height="6.5" fill="#CCEBC5"/>
<text x="305.6" y="597.2" style="font-family:&quot;Liberation Sans&quot;,sans-serif;font-weight:bold;font-size:8.7px" fill="#333">AD(1%)</text>
<rect x="295.2" y="603.5" width="6.8" height="6.5" fill="#DECBE4"/>
<text x="305.6" y="609.9" style="font-family:&quot;Liberation Sans&quot;,sans-serif;font-weight:bold;font-size:8.7px" fill="#333">IR(2%)</text>
<rect x="295.2" y="616.3" width="6.8" height="6.5" fill="#B9B9B2"/>
<text x="305.6" y="622.7" style="font-family:&quot;Liberation Sans&quot;,sans-serif;font-weight:bold;font-size:8.7px" fill="#333">MEE(0%)</text>
<rect x="295.2" y="629.1" width="6.8" height="6.5" fill="#B3CDE3"/>
<text x="305.6" y="635.5" style="font-family:&quot;Liberation Sans&quot;,sans-serif;font-weight:bold;font-size:8.7px" fill="#333">Other(92%)</text>
<line x1="415.4" y1="571.2" x2="415.4" y2="740.6" stroke="#333" stroke-width="1"/>
<line x1="414.9" y1="740.2" x2="660.5" y2="740.2" stroke="#333" stroke-width="1"/>
<line x1="412.8" y1="732.4" x2="415.4" y2="732.4" stroke="#333" stroke-width="0.9"/>
<text x="411.9" y="735.4" text-anchor="end" style="font-family:&quot;Liberation Sans&quot;,sans-serif;font-size:8.5px" fill="#4d4d4d">0</text>
<line x1="412.8" y1="701.8" x2="415.4" y2="701.8" stroke="#333" stroke-width="0.9"/>
<text x="411.9" y="704.8" text-anchor="end" style="font-family:&quot;Liberation Sans&quot;,sans-serif;font-size:8.5px" fill="#4d4d4d">1000</text>
<line x1="412.8" y1="671.2" x2="415.4" y2="671.2" stroke="#333" stroke-width="0.9"/>
<text x="411.9" y="674.2" text-anchor="end" style="font-family:&quot;Liberation Sans&quot;,sans-serif;font-size:8.5px" fill="#4d4d4d">2000</text>
<line x1="412.8" y1="640.5" x2="415.4" y2="640.5" stroke="#333" stroke-width="0.9"/>
<text x="411.9" y="643.5" text-anchor="end" style="font-family:&quot;Liberation Sans&quot;,sans-serif;font-size:8.5px" fill="#4d4d4d">3000</text>
<line x1="412.8" y1="609.9" x2="415.4" y2="609.9" stroke="#333" stroke-width="0.9"/>
<text x="411.9" y="612.9" text-anchor="end" style="font-family:&quot;Liberation Sans&quot;,sans-serif;font-size:8.5px" fill="#4d4d4d">4000</text>
<line x1="412.8" y1="579.3" x2="415.4" y2="579.3" stroke="#333" stroke-width="0.9"/>
<text x="411.9" y="582.3" text-anchor="end" style="font-family:&quot;Liberation Sans&quot;,sans-serif;font-size:8.5px" fill="#4d4d4d">5000</text>
<rect x="427.25" y="592.90" width="23.5" height="139.50" fill="#EF8C7C"/>
<text x="439.0" y="589.5" text-anchor="middle" style="font-family:&quot;Liberation Sans&quot;,sans-serif;font-size:9.8px" fill="#000">4556</text>
<line x1="439.0" y1="740.2" x2="439.0" y2="742.8" stroke="#333" stroke-width="0.9"/>
<text x="439.0" y="749.6" text-anchor="middle" style="font-family:&quot;Liberation Sans&quot;,sans-serif;font-size:8.5px" fill="#4d4d4d">1</text>
<rect x="466.85" y="635.24" width="23.5" height="97.16" fill="#8CD2E3"/>
<text x="478.6" y="631.8" text-anchor="middle" style="font-family:&quot;Liberation Sans&quot;,sans-serif;font-size:9.8px" fill="#000">3173</text>
<line x1="478.6" y1="740.2" x2="478.6" y2="742.8" stroke="#333" stroke-width="0.9"/>
<text x="478.6" y="749.6" text-anchor="middle" style="font-family:&quot;Liberation Sans&quot;,sans-serif;font-size:8.5px" fill="#4d4d4d">2</text>
<rect x="506.45" y="711.95" width="23.5" height="20.45" fill="#5EC2AF"/>
<text x="518.2" y="708.5" text-anchor="middle" style="font-family:&quot;Liberation Sans&quot;,sans-serif;font-size:9.8px" fill="#000">668</text>
<line x1="518.2" y1="740.2" x2="518.2" y2="742.8" stroke="#333" stroke-width="0.9"/>
<text x="518.2" y="749.6" text-anchor="middle" style="font-family:&quot;Liberation Sans&quot;,sans-serif;font-size:8.5px" fill="#4d4d4d">3</text>
<rect x="546.05" y="723.73" width="23.5" height="8.67" fill="#8393B5"/>
<text x="557.8" y="720.3" text-anchor="middle" style="font-family:&quot;Liberation Sans&quot;,sans-serif;font-size:9.8px" fill="#000">283</text>
<line x1="557.8" y1="740.2" x2="557.8" y2="742.8" stroke="#333" stroke-width="0.9"/>
<text x="557.8" y="749.6" text-anchor="middle" style="font-family:&quot;Liberation Sans&quot;,sans-serif;font-size:8.5px" fill="#4d4d4d">4</text>
<rect x="585.65" y="729.15" width="23.5" height="3.25" fill="#F8BFAB"/>
<text x="597.4" y="725.8" text-anchor="middle" style="font-family:&quot;Liberation Sans&quot;,sans-serif;font-size:9.8px" fill="#000">106</text>
<line x1="597.4" y1="740.2" x2="597.4" y2="742.8" stroke="#333" stroke-width="0.9"/>
<text x="597.4" y="749.6" text-anchor="middle" style="font-family:&quot;Liberation Sans&quot;,sans-serif;font-size:8.5px" fill="#4d4d4d">5</text>
<rect x="625.25" y="707.38" width="23.5" height="25.02" fill="#B0BAD3"/>
<text x="637.0" y="704.0" text-anchor="middle" style="font-family:&quot;Liberation Sans&quot;,sans-serif;font-size:9.8px" fill="#000">817</text>
<line x1="637.0" y1="740.2" x2="637.0" y2="742.8" stroke="#333" stroke-width="0.9"/>
<text x="637.0" y="749.6" text-anchor="middle" style="font-family:&quot;Liberation Sans&quot;,sans-serif;font-size:8.5px" fill="#4d4d4d">≥6</text>
<text x="537.6" y="760.4" text-anchor="middle" style="font-family:&quot;Liberation Sans&quot;,sans-serif;font-weight:bold;font-size:10.3px" fill="#000">APA number</text>
<text transform="translate(389.4,655.5) rotate(-90)" text-anchor="middle" style="font-family:&quot;Liberation Sans&quot;,sans-serif;font-weight:bold;font-size:10.75px" fill="#000">Number of transcript</text>
</svg>
</body></html>
